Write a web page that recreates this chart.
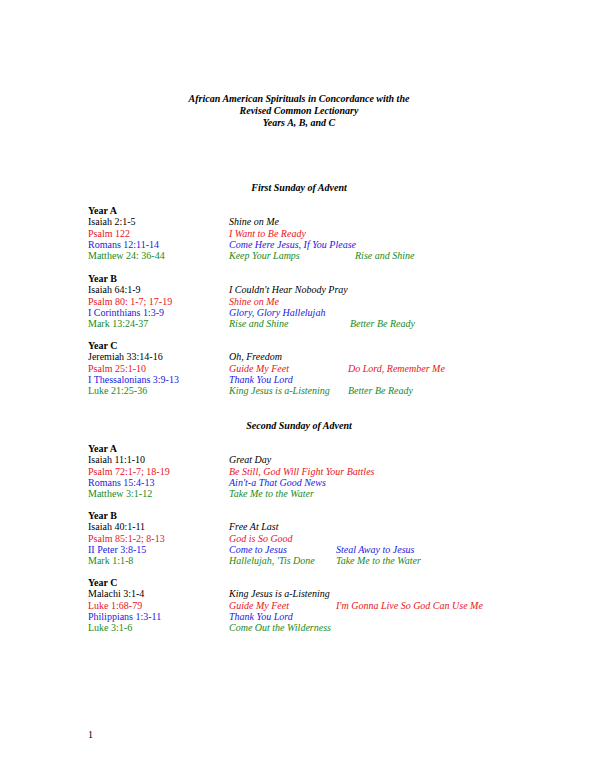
<!DOCTYPE html>
<html><head><meta charset="utf-8">
<script src="https://cdn.jsdelivr.net/npm/chart.js@4"></script>
<style>
body{margin:0;background:#fff;width:600px;height:776px;position:relative;font-family:"Liberation Serif","Times New Roman",serif;font-size:10px}
.t{position:absolute;white-space:nowrap;line-height:12px}
.i{font-style:italic}
.b{font-weight:bold}
.c{transform:translateX(-50%)}
</style></head><body>
<script>
const titleLines = ['African American Spirituals in Concordance with the', 'Revised Common Lectionary', 'Years A, B, and C'];
const colors = ['#000000', '#e8141c', '#1a1ae0', '#1a8a1a'];
// [heading, y, years: [label, y, readings, songs, extra songs]]
const sundays = [
  ['First Sunday of Advent', 188, [
    ['Year A', 211, ['Isaiah 2:1-5', 'Psalm 122', 'Romans 12:11-14', 'Matthew 24: 36-44'],
      ['Shine on Me', 'I Want to Be Ready', 'Come Here Jesus, If You Please', 'Keep Your Lamps'],
      [[3, 'Rise and Shine', 355]]],
    ['Year B', 279, ['Isaiah 64:1-9', 'Psalm 80: 1-7; 17-19', 'I Corinthians 1:3-9', 'Mark 13:24-37'],
      ["I Couldn't Hear Nobody Pray", 'Shine on Me', 'Glory, Glory Hallelujah', 'Rise and Shine'],
      [[3, 'Better Be Ready', 350]]],
    ['Year C', 346, ['Jeremiah 33:14-16', 'Psalm 25:1-10', 'I Thessalonians 3:9-13', 'Luke 21:25-36'],
      ['Oh, Freedom', 'Guide My Feet', 'Thank You Lord', 'King Jesus is a-Listening'],
      [[1, 'Do Lord, Remember Me', 348], [3, 'Better Be Ready', 348]]],
  ]],
  ['Second Sunday of Advent', 426, [
    ['Year A', 449, ['Isaiah 11:1-10', 'Psalm 72:1-7; 18-19', 'Romans 15:4-13', 'Matthew 3:1-12'],
      ['Great Day', 'Be Still, God Will Fight Your Battles', "Ain't-a That Good News", 'Take Me to the Water'], []],
    ['Year B', 516, ['Isaiah 40:1-11', 'Psalm 85:1-2; 8-13', 'II Peter 3:8-15', 'Mark 1:1-8'],
      ['Free At Last', 'God is So Good', 'Come to Jesus', "Hallelujah, 'Tis Done"],
      [[2, 'Steal Away to Jesus', 336], [3, 'Take Me to the Water', 336]]],
    ['Year C', 583, ['Malachi 3:1-4', 'Luke 1:68-79', 'Philippians 1:3-11', 'Luke 3:1-6'],
      ['King Jesus is a-Listening', 'Guide My Feet', 'Thank You Lord', 'Come Out the Wilderness'],
      [[1, "I'm Gonna Live So God Can Use Me", 336]]],
  ]],
];
const titleYs = [93, 105, 117];
const rowStep = 11.3;

function put(text, x, y, cls, color) {
  const d = document.createElement('div');
  d.className = 't ' + cls;
  d.style.left = x + 'px';
  d.style.top = y + 'px';
  d.style.color = color || '#000';
  d.textContent = text;
  document.body.appendChild(d);
}

titleLines.forEach((s, i) => put(s, 299, titleYs[i], 'i b c'));
sundays.forEach(([head, hy, years]) => {
  put(head, 299, hy - 6, 'i b c');
  years.forEach(([label, y, reads, songs, extra]) => {
    put(label, 88, y - 6, 'b');
    reads.forEach((r, i) => put(r, 88, y - 6 + (i + 1) * rowStep, '', colors[i]));
    songs.forEach((s, i) => put(s, 229, y - 6 + (i + 1) * rowStep, 'i', colors[i]));
    extra.forEach(([row, s, x]) => put(s, x, y - 6 + (row + 1) * rowStep, 'i', colors[row]));
  });
});
put('1', 88, 729, '');
</script>
</body></html>
